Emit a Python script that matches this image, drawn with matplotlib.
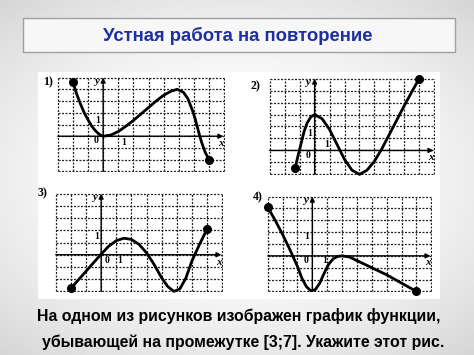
import matplotlib
matplotlib.use("Agg")
import matplotlib.pyplot as plt
import numpy as np
from matplotlib.patches import Rectangle

W, H = 474, 355

title = "Устная работа на повторение"
question = ["На одном из рисунков изображен график функции,",
            "убывающей на промежутке [3;7]. Укажите этот рис."]

# curves (grid units)
x1 = [-2, -1.75, -1.5, -1.25, -1, -0.75, -0.5, -0.25, 0, 0.5, 1, 1.5, 2, 2.5, 3, 3.5,
      4, 4.5, 4.9, 5.3, 5.6, 5.9, 6.1, 6.3, 6.5, 6.75, 7]
y1 = [4.6, 3.6, 2.75, 2.0, 1.4, 0.85, 0.45, 0.15, 0.0, 0.1, 0.4, 0.85, 1.35, 1.9, 2.45, 3.0,
      3.5, 3.85, 4.0, 3.75, 3.2, 2.2, 1.4, 0.4, -0.5, -1.4, -2.0]

x2 = [-1.3, -1.1, -0.9, -0.7, -0.5, -0.25, 0, 0.5, 1, 1.5, 2, 2.5, 3, 3.5, 4, 4.5, 5,
      5.5, 6, 6.5, 7]
y2 = [-1.45, -0.4, 0.6, 1.6, 2.3, 2.8, 3.0, 2.65, 1.75, 0.5, -0.75, -1.65, -2.0, -1.65,
      -0.9, 0.15, 1.35, 2.55, 3.75, 4.9, 6.0]

x3 = [-2, -1.5, -1, -0.5, 0, 0.5, 1, 1.5, 2, 2.5, 3, 3.5, 4, 4.4, 4.8, 5.2, 5.6, 6, 6.5, 7]
y3 = [-2.75, -2.05, -1.35, -0.65, 0.05, 0.7, 1.15, 1.35, 1.25, 0.85, 0.15, -0.8, -1.9,
      -2.6, -3.0, -2.8, -1.9, -0.5, 0.85, 2.1]

x4 = [-3, -2.5, -2, -1.5, -1, -0.7, -0.4, -0.1, 0.2, 0.5, 0.8, 1.1, 1.4, 1.7, 2, 2.5, 3,
      3.5, 4, 5, 6, 7]
y4 = [4.1, 3.0, 1.8, 0.5, -0.9, -1.9, -2.6, -2.95, -2.85, -2.3, -1.45, -0.7, -0.25, -0.05,
      0.0, -0.1, -0.4, -0.7, -1.0, -1.6, -2.3, -3.0]

panels = [
    # name, curve, xlim, ylim, pixel box, label pos, "0" pos, y-"1" pos, x-"1" pos
    ("1)", x1, y1, (-3, 8), (-3, 5), (57, 77, 225, 172), (43, 82), (-0.45, -0.35), (-0.35, 1.3), (1.35, -0.5)),
    ("2)", x2, y2, (-3, 8), (-2, 6), (269, 78, 435, 175), (251, 86), (-0.45, -0.45), (-0.35, 1.45), (0.8, 0.5)),
    ("3)", x3, y3, (-3, 8), (-3, 5), (55, 193, 223, 292), (38, 193), (0.4, -0.5), (-0.3, 1.5), (1.25, -0.5)),
    ("4)", x4, y4, (-3, 8), (-3, 5), (267, 196, 432, 292), (253, 197), (-0.4, -0.4), (-0.35, 1.6), (0.8, -0.4)),
]


def px_axes(fig, x0, y0, x1, y1, **kw):
    return fig.add_axes([x0 / W, 1 - y1 / H, (x1 - x0) / W, (y1 - y0) / H], **kw)


fig = plt.figure(figsize=(W / 100, H / 100), dpi=100)

# slide background: soft gray vignette
bg = px_axes(fig, 0, 0, W, H)
gx, gy = np.meshgrid(np.linspace(-1, 1, 200), np.linspace(-1, 1, 150))
bg.imshow(1 - 0.09 * np.clip(np.hypot(gx * 0.9, gy), 0, 1.4) ** 2, cmap="gray",
          vmin=0, vmax=1, aspect="auto", extent=(0, W, H, 0))
bg.add_patch(Rectangle((38, 72), 402, 227, facecolor="white", edgecolor="none"))
bg.add_patch(Rectangle((23, 18), 432, 34, facecolor="#f7f7f7", edgecolor="#a0a0a0", lw=1))
bg.text(238, 36, title, ha="center", va="center", fontsize=13.3, fontweight="bold",
        color="#1e2fa0", family="Liberation Sans")
bg.text(239, 316, question[0], ha="center", va="center", fontsize=11.4,
        fontweight="bold", color="black", family="Liberation Sans")
bg.text(243, 342, question[1], ha="center", va="center", fontsize=11.4,
        fontweight="bold", color="black", family="Liberation Sans")
bg.set_xlim(0, W)
bg.set_ylim(H, 0)
bg.axis("off")

serif = "Liberation Serif"
for name, xs, ys, xlim, ylim, box, lab, zero, one_y, one_x in panels:
    ax = px_axes(fig, *box)
    ax.set_xlim(xlim[0] - 0.05, xlim[1] + 0.05)
    ax.set_ylim(ylim[0] - 0.05, ylim[1] + 0.05)
    ax.axis("off")
    for gxv in range(xlim[0], xlim[1] + 1):
        ax.plot([gxv, gxv], ylim, color="#222222", lw=0.9, ls=(0, (1.6, 1.2)))
    for gyv in range(ylim[0], ylim[1] + 1):
        ax.plot(xlim, [gyv, gyv], color="#222222", lw=0.9, ls=(0, (1.6, 1.2)))
    # axes with arrows
    ax.annotate("", xy=(xlim[1] - 0.05, 0), xytext=(xlim[0], 0),
                arrowprops=dict(arrowstyle="-|>", color="black", lw=1.0,
                                mutation_scale=7, shrinkA=0, shrinkB=0))
    ax.annotate("", xy=(0, ylim[1]), xytext=(0, ylim[0]),
                arrowprops=dict(arrowstyle="-|>", color="black", lw=1.0,
                                mutation_scale=7, shrinkA=0, shrinkB=0))
    ax.plot(xs, ys, color="black", lw=2.0, solid_capstyle="round", clip_on=False)
    ax.plot([xs[0], xs[-1]], [ys[0], ys[-1]], "o", color="black", ms=5.5, clip_on=False)
    ax.text(-0.45, ylim[1] - 0.3, "y", ha="center", va="center", fontsize=8,
            fontstyle="italic", fontweight="bold", family=serif)
    ax.text(xlim[1] - 0.25, -0.6, "x", ha="center", va="center", fontsize=8,
            fontstyle="italic", fontweight="bold", family=serif)
    ax.text(*zero, "0", ha="center", va="center", fontsize=7, fontweight="bold", family=serif)
    ax.text(*one_y, "1", ha="center", va="center", fontsize=7, fontweight="bold", family=serif)
    ax.text(*one_x, "1", ha="center", va="center", fontsize=7, fontweight="bold", family=serif)
    bg.text(*lab, name, ha="left", va="center", fontsize=8.5, fontweight="bold",
            family=serif)

fig.savefig("out.png", dpi=100)
